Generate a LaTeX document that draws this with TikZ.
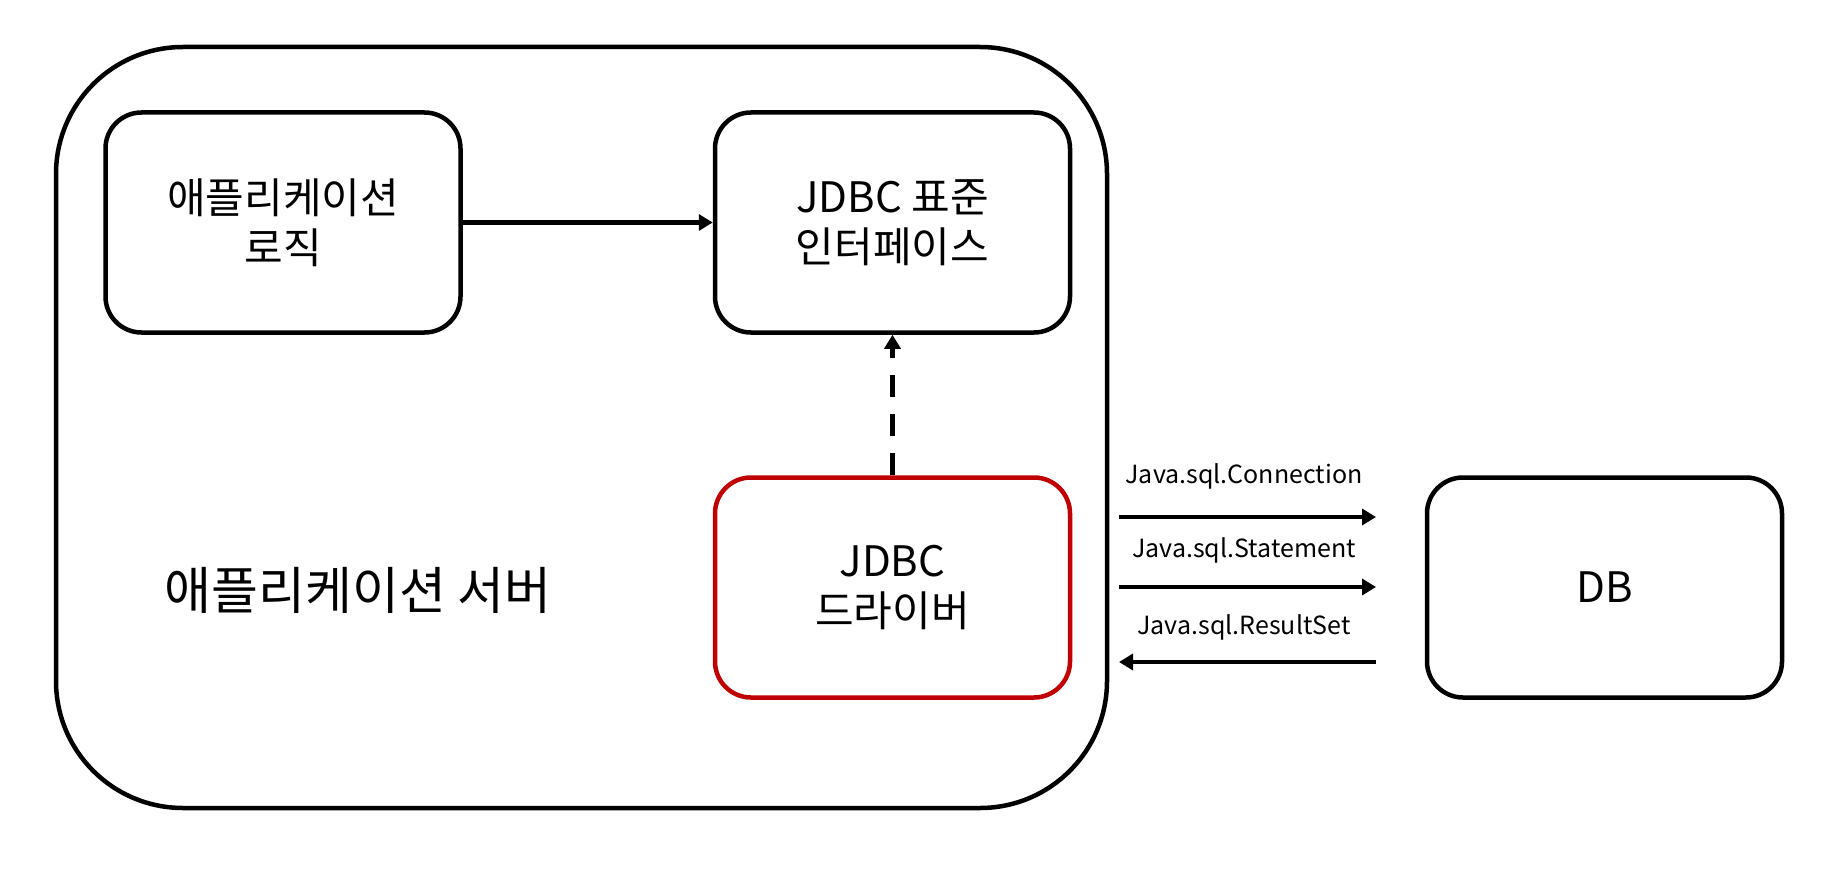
\documentclass[tikz,border=0pt]{standalone}
\usepackage{fontspec}
\setmainfont{Noto Sans CJK KR}
\usetikzlibrary{arrows.meta}
\definecolor{drvred}{HTML}{C00000}
\tikzset{
  box/.style={draw, line width=4.5pt, rounded corners=36pt, minimum width=355pt, minimum height=220pt, align=center, inner sep=0pt, font=\fontsize{42}{50}\selectfont},
  outerbox/.style={draw, line width=4.5pt, rounded corners=127pt, minimum width=1051pt, minimum height=761pt, inner sep=0pt},
  arr/.style={line width=4.5pt, -{Triangle[length=14pt,width=16pt]}},
  lbl/.style={font=\fontsize{25}{29}\selectfont, inner sep=0pt},
}
\begin{document}
\begin{tikzpicture}[x=1pt,y=-1pt]
\useasboundingbox (0,0) rectangle (1831,869);
\node[outerbox] (server) at (581.5,427.5) {};
\node[font=\fontsize{51}{58}\selectfont, inner sep=0pt] (serverlbl) at (358,590) {애플리케이션 서버};
\node[box] (logic) at (283,222.5) {애플리케이션\\로직};
\node[box] (iface) at (892.5,222.5) {JDBC 표준\\인터페이스};
\node[box, draw=drvred] (driver) at (892.5,587.5) {JDBC\\드라이버};
\node[box] (db) at (1604.5,587.5) {DB};
\draw[arr] (logic.east) -- (iface.west);
\draw[arr, dash pattern=on 22pt off 17pt] (driver.north) -- (iface.south);
\coordinate (c1s) at (1119,517);
\coordinate (c1e) at (1376,517);
\coordinate (c2s) at (1119,587);
\coordinate (c2e) at (1376,587);
\coordinate (c3s) at (1376,662);
\coordinate (c3e) at (1119,662);
\draw[arr] (c1s) -- (c1e);
\draw[arr] (c2s) -- (c2e);
\draw[arr] (c3s) -- (c3e);
\node[lbl] (l1) at (1244,476) {Java.sql.Connection};
\node[lbl] (l2) at (1244,550) {Java.sql.Statement};
\node[lbl] (l3) at (1244,627) {Java.sql.ResultSet};
\end{tikzpicture}
\end{document}
